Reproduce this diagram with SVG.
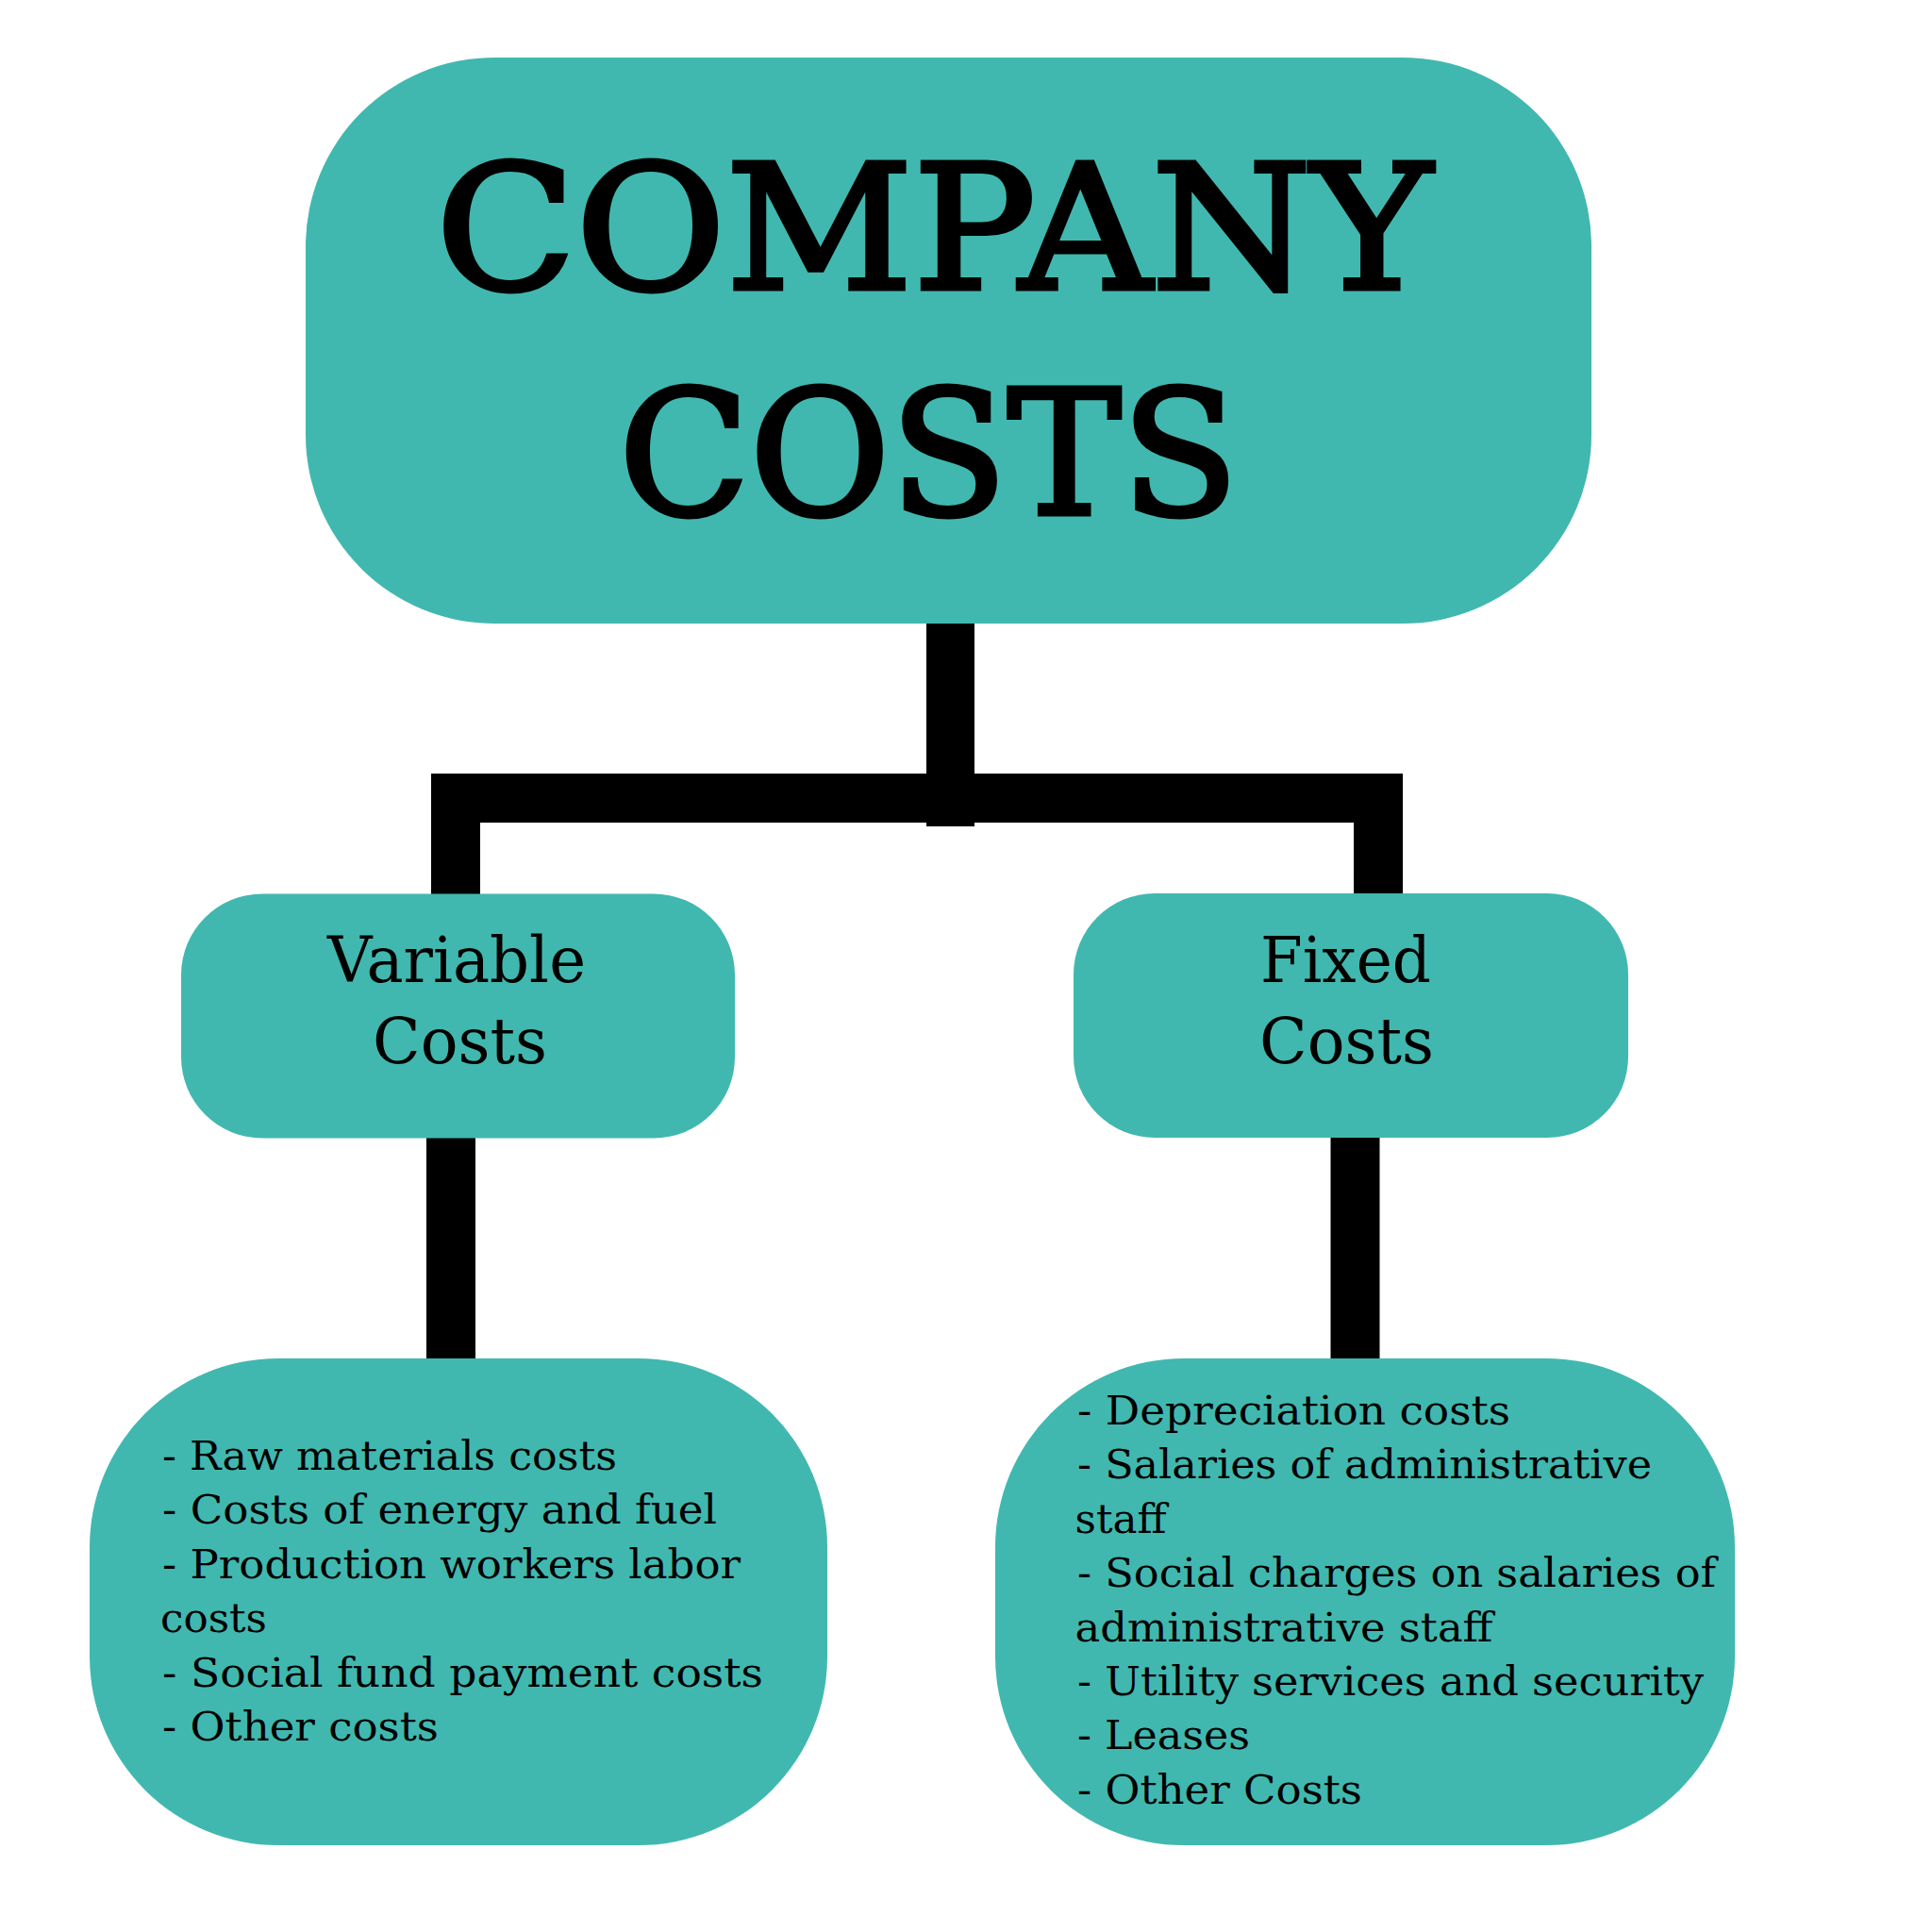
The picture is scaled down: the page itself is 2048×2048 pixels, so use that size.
<svg xmlns="http://www.w3.org/2000/svg" width="2048" height="2048" viewBox="0 0 2048 2048">
<style>
.box{fill:#41B8AF;}
.title{font-family:"DejaVu Serif","Liberation Serif",serif;font-size:184px;fill:#000;stroke:#000;stroke-width:5px;}
.sub{font-family:"DejaVu Serif","Liberation Serif",serif;font-size:68px;fill:#000;}
.item{font-family:"DejaVu Serif","Liberation Serif",serif;font-size:43px;fill:#000;}
.conn{fill:none;stroke:#000;stroke-linejoin:miter;stroke-linecap:butt;}
</style>
<rect width="2048" height="2048" fill="#fff"/>
<g id="connectors">
<path class="conn" stroke-width="51" d="M1007.5 661 V876"/>
<path class="conn" stroke-width="52" d="M483 948 V846 H1461 V947"/>
<path class="conn" stroke-width="52" d="M478 1206 V1440"/>
<path class="conn" stroke-width="52" d="M1436.5 1205 V1440"/>
</g>
<g id="company-costs">
<rect class="box" x="324" y="61" width="1363" height="600" rx="200" ry="200"/>
<text class="title" x="462" y="306" textLength="1056" lengthAdjust="spacingAndGlyphs">COMPANY</text>
<text class="title" x="656" y="545" textLength="657" lengthAdjust="spacingAndGlyphs">COSTS</text>
</g>
<g id="variable-costs">
<rect class="box" x="192" y="947.5" width="587" height="259" rx="86" ry="86"/>
<text class="sub" x="347" y="1041" textLength="274" lengthAdjust="spacingAndGlyphs">Variable</text>
<text class="sub" x="395" y="1127" textLength="185" lengthAdjust="spacingAndGlyphs">Costs</text>
</g>
<g id="fixed-costs">
<rect class="box" x="1138" y="947" width="588" height="259" rx="86" ry="86"/>
<text class="sub" x="1336" y="1041" textLength="181" lengthAdjust="spacingAndGlyphs">Fixed</text>
<text class="sub" x="1335" y="1127" textLength="185" lengthAdjust="spacingAndGlyphs">Costs</text>
</g>
<g id="variable-list">
<rect class="box" x="95" y="1440" width="782" height="516" rx="200" ry="200"/>
<text class="item" x="172" y="1557.5" textLength="482" lengthAdjust="spacingAndGlyphs">- Raw materials costs</text>
<text class="item" x="172" y="1615" textLength="588" lengthAdjust="spacingAndGlyphs">- Costs of energy and fuel</text>
<text class="item" x="172" y="1672.5" textLength="613" lengthAdjust="spacingAndGlyphs">- Production workers labor</text>
<text class="item" x="170" y="1730" textLength="113" lengthAdjust="spacingAndGlyphs">costs</text>
<text class="item" x="172" y="1787.5" textLength="637" lengthAdjust="spacingAndGlyphs">- Social fund payment costs</text>
<text class="item" x="172" y="1845" textLength="293" lengthAdjust="spacingAndGlyphs">- Other costs</text>
</g>
<g id="fixed-list">
<rect class="box" x="1055" y="1440" width="784" height="516" rx="200" ry="200"/>
<text class="item" x="1142" y="1510" textLength="459" lengthAdjust="spacingAndGlyphs">- Depreciation costs</text>
<text class="item" x="1142" y="1567.4" textLength="609" lengthAdjust="spacingAndGlyphs">- Salaries of administrative</text>
<text class="item" x="1139.5" y="1624.8" textLength="97" lengthAdjust="spacingAndGlyphs">staff</text>
<text class="item" x="1142" y="1682.2" textLength="677" lengthAdjust="spacingAndGlyphs">- Social charges on salaries of</text>
<text class="item" x="1139.5" y="1739.6" textLength="443" lengthAdjust="spacingAndGlyphs">administrative staff</text>
<text class="item" x="1142" y="1797" textLength="664" lengthAdjust="spacingAndGlyphs">- Utility services and security</text>
<text class="item" x="1142" y="1854.4" textLength="183" lengthAdjust="spacingAndGlyphs">- Leases</text>
<text class="item" x="1142" y="1911.8" textLength="302" lengthAdjust="spacingAndGlyphs">- Other Costs</text>
</g>
</svg>
